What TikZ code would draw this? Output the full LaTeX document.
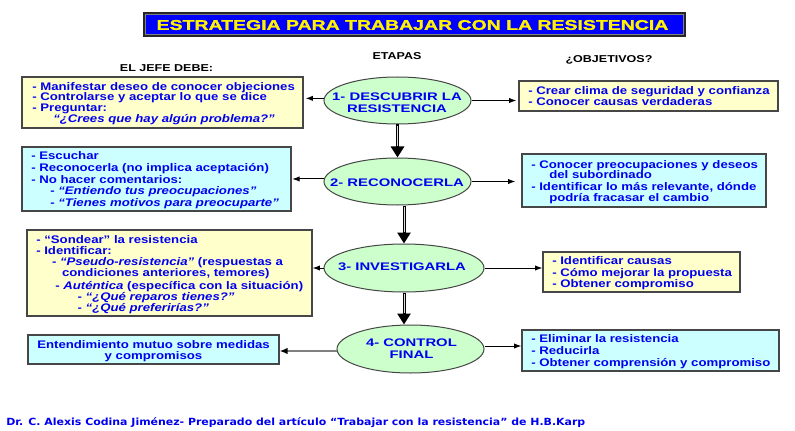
\documentclass[tikz,border=0pt]{standalone}
\usepackage{fontspec}
\usetikzlibrary{arrows.meta,shapes.geometric,fit}
\newfontfamily\famBox{Liberation Sans}[FakeStretch=1.2]
\newfontfamily\famTitle{Liberation Sans Bold}[FakeStretch=1.39,FakeBold=1.5]
\newfontfamily\famHead{Liberation Sans}[FakeStretch=1.25]
\newfontfamily\famEll{Liberation Sans}[FakeStretch=1.35]
\newfontfamily\famFoot{DejaVu Sans}[FakeStretch=1.11]
\definecolor{tblue}{RGB}{0,0,240}
\definecolor{byel}{RGB}{255,255,204}
\definecolor{bcyan}{RGB}{204,255,255}
\definecolor{egreen}{RGB}{204,255,204}
\definecolor{bord}{RGB}{70,70,70}
\newcommand\bxs[1]{\famBox\bfseries\fontsize{8.25pt}{#1}\selectfont}
\newcommand\st{\rule{0pt}{6.75pt}}
\begin{document}
\begin{tikzpicture}[x=0.75pt,y=-0.75pt,
  ybox/.style={draw=bord, line width=0.9pt, fill=byel, inner sep=0pt},
  cbox/.style={draw=bord, line width=0.9pt, fill=bcyan, inner sep=0pt},
  ell/.style={ellipse, draw=bord, line width=0.75pt, fill=egreen, inner sep=0pt},
  etxt/.style={text=tblue, align=center, inner sep=0pt, font=\famEll\bfseries\fontsize{8.25pt}{8.6pt}\selectfont},
  btxt/.style={text=tblue, align=left, inner sep=0pt, anchor=north west},
  head/.style={inner sep=0pt, font=\famHead\bfseries\fontsize{7.5pt}{9pt}\selectfont},
  harrow/.style={draw=black, line width=0.75pt, -{Latex[length=5.5pt,width=4pt]}},
  varrow/.style={draw=black, line width=2.25pt, -{Triangle[length=8.25pt,width=9.75pt]}},
  vin/.style={draw=white!75!gray, line width=0.7pt},
]
\useasboundingbox (0,0) rectangle (795,431);
\fill[white] (0,0) rectangle (795,431);

% title
\node[fill=black!85, inner sep=0pt, fit={(143,12) (686,37)}] (tframe) {};
\node[fill=blue, draw=black!50, line width=0.4pt, inner sep=0pt, fit={(145.5,14.5) (683.5,34.5)}] (tbox) {};
\node[text=yellow, inner sep=0pt, font=\famTitle\fontsize{10.5pt}{12pt}\selectfont] (title) at (412.5,25) {ESTRATEGIA PARA TRABAJAR CON LA RESISTENCIA};

% headers
\node[head] (h1) at (166.5,68) {EL JEFE DEBE:};
\node[head] (h2) at (397,56) {ETAPAS};
\node[head] (h3) at (609,59.5) {¿OBJETIVOS?};

% ellipses
\node[ell, minimum width=110.25pt, minimum height=35.25pt] (e1) at (397.5,100.5) {};
\node[etxt] (e1t) at (397,102.5) {1- DESCUBRIR LA\\RESISTENCIA};
\node[ell, minimum width=110.25pt, minimum height=35.25pt] (e2) at (397.5,181.5) {};
\node[etxt] (e2t) at (397,182.5) {2- RECONOCERLA};
\node[ell, minimum width=120pt, minimum height=36pt] (e3) at (404,268) {};
\node[etxt] (e3t) at (402,266.5) {3- INVESTIGARLA};
\node[ell, minimum width=110.25pt, minimum height=36pt] (e4) at (410.5,349) {};
\node[etxt] (e4t) at (411.5,348.5) {4- CONTROL\\FINAL};

% boxes
\node[ybox, fit={(22,77) (303,128)}] (L1) {};
\node[btxt, font=\bxs{8pt}] (L1t) at (32,81) {\st- Manifestar deseo de conocer objeciones\\- Controlarse y aceptar lo que se dice\\- Preguntar:\\\hspace*{15.75pt}{\itshape “¿Crees que hay algún problema?”}};

\node[ybox, fit={(519,81) (778,111)}] (R1) {};
\node[btxt, font=\bxs{8.25pt}] (R1t) at (528,85) {\st- Crear clima de seguridad y confianza\\- Conocer causas verdaderas};

\node[cbox, fit={(22,147) (291,211)}] (L2) {};
\node[btxt, font=\bxs{8.85pt}] (L2t) at (31,150.3) {\st- Escuchar\\- Reconocerla (no implica aceptación)\\- No hacer comentarios:\\\hspace*{14.25pt}- {\itshape “Entiendo tus preocupaciones”}\\\hspace*{14.25pt}- {\itshape “Tienes motivos para preocuparte”}};

\node[cbox, fit={(522,154) (766,207)}] (R2) {};
\node[btxt, font=\bxs{7.875pt}] (R2t) at (531,159) {\st- Conocer preocupaciones y deseos\\\hspace*{13.5pt}del subordinado\\[1.3pt]- Identificar lo más relevante, dónde\\\hspace*{13.5pt}podría fracasar el cambio};

\node[ybox, fit={(27,230) (312,316)}] (L3) {};
\node[btxt, font=\bxs{8.25pt}] (L3t) at (36,234) {\st- “Sondear” la resistencia\\- Identificar:\\\hspace*{11.8pt}- {\itshape “Pseudo-resistencia”} (respuestas a\\\hspace*{19.3pt}condiciones anteriores, temores)\\[1.3pt]\hspace*{14.25pt}- {\itshape Auténtica} (específica con la situación)\\\hspace*{31pt}- {\itshape “¿Qué reparos tienes?”}\\\hspace*{31pt}- {\itshape “¿Qué preferirías?”}};

\node[ybox, fit={(543,252) (740,292)}] (R3) {};
\node[btxt, font=\bxs{8.8pt}] (R3t) at (552,255) {\st- Identificar causas\\- Cómo mejorar la propuesta\\- Obtener compromiso};

\node[cbox, fit={(28,335) (279,364)}] (L4) {};
\node[btxt, anchor=north, align=center, font=\bxs{8.25pt}] (L4t) at (153.5,339) {\st Entendimiento mutuo sobre medidas\\y compromisos};

\node[cbox, fit={(522,330) (779,371)}] (R4) {};
\node[btxt, font=\bxs{8.8pt}] (R4t) at (531,333.3) {\st- Eliminar la resistencia\\- Reducirla\\- Obtener comprensión y compromiso};

% horizontal arrows
\draw[harrow, shorten >=1.5pt] ([yshift=1.6pt]e1.west) -- ([yshift=1.6pt]e1.west -| L1.east);
\draw[harrow, shorten >=1.5pt] (e1.east) -- (e1.east -| R1.west);
\draw[harrow, shorten >=0.5pt] ([yshift=1.9pt]e2.west) -- ([yshift=1.9pt]e2.west -| L2.east);
\draw[harrow, shorten >=4.5pt] (e2.east) -- (e2.east -| R2.west);
\draw[harrow] (e3.west) -- (e3.west -| L3.east);
\draw[harrow] (e3.east) -- (e3.east -| R3.west);
\draw[draw=gray, line width=1.5pt, -{Latex[length=6pt,width=5pt,color=black]}] ([yshift=-1.5pt]e4.west) -- ([yshift=-1.5pt]e4.west -| L4.east);
\draw[harrow] ([yshift=2.25pt]e4.east) -- ([yshift=2.25pt]e4.east -| R4.west);

% vertical arrows
\draw[varrow] (e1.south) -- (e2.north);
\draw[vin] ([yshift=-1pt]e1.south) -- ([yshift=8.6pt]e2.north);
\draw[varrow] (e3.north |- e2.south) -- (e3.north);
\draw[vin] ([yshift=-1pt]e3.north |- e2.south) -- ([yshift=8.6pt]e3.north);
\draw[varrow] (e3.south) -- (e3.south |- e4.north);
\draw[vin] ([yshift=-1pt]e3.south) -- ([yshift=8.6pt]e3.south |- e4.north);

% footer
\node[anchor=base west, inner sep=0pt, text=tblue, font=\famFoot\bfseries\fontsize{7.4pt}{8pt}\selectfont] (foot) at (6,425) {Dr. C. Alexis Codina Jiménez- Preparado del artículo “Trabajar con la resistencia” de H.B.Karp};
\end{tikzpicture}
\end{document}
